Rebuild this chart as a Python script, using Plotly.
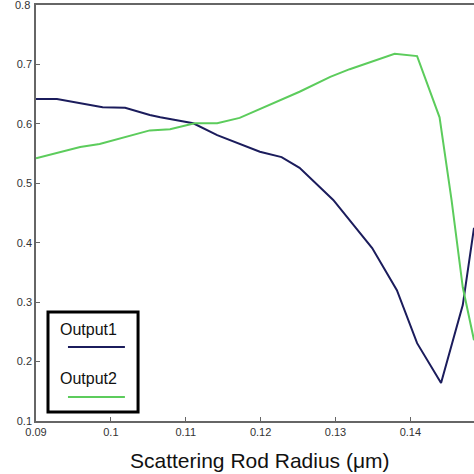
import plotly.graph_objects as go

x_out1 = [0.0900, 0.0928, 0.0989, 0.1019, 0.1052, 0.1066, 0.1110, 0.1142, 0.1199,
          0.1228, 0.1252, 0.1297, 0.1349, 0.1382, 0.1409, 0.1441, 0.1470, 0.1485]
y_out1 = [0.642, 0.642, 0.628, 0.627, 0.615, 0.611, 0.601, 0.581, 0.553,
          0.544, 0.526, 0.472, 0.391, 0.320, 0.231, 0.164, 0.295, 0.425]

x_out2 = [0.0900, 0.0959, 0.0985, 0.1052, 0.1079, 0.1112, 0.1142, 0.1172, 0.1252,
          0.1293, 0.1319, 0.1379, 0.1409, 0.1439, 0.1455, 0.1470, 0.1485]
y_out2 = [0.542, 0.561, 0.566, 0.589, 0.591, 0.601, 0.601, 0.610, 0.654,
          0.679, 0.692, 0.718, 0.714, 0.611, 0.472, 0.325, 0.236]

names = ["Output1", "Output2"]
colors = ["#1b1c5c", "#5ccc5c"]
x_ticks = [0.09, 0.10, 0.11, 0.12, 0.13, 0.14]
x_tick_text = ["0.09", "0.1", "0.11", "0.12", "0.13", "0.14"]
y_ticks = [0.1, 0.2, 0.3, 0.4, 0.5, 0.6, 0.7, 0.8]
y_tick_text = ["0.1", "0.2", "0.3", "0.4", "0.5", "0.6", "0.7", "0.8"]
x_title = "Scattering Rod Radius (μm)"

tick_font = dict(family="Arial, Liberation Sans", size=11, color="#333")

fig = go.Figure()
fig.add_trace(go.Scatter(x=x_out1, y=y_out1, mode="lines", name=names[0],
                         line=dict(color=colors[0], width=2)))
fig.add_trace(go.Scatter(x=x_out2, y=y_out2, mode="lines", name=names[1],
                         line=dict(color=colors[1], width=2)))

axis_common = dict(showline=True, linecolor="#666", linewidth=1.5, ticks="inside",
                   ticklen=4, tickcolor="#666", showgrid=False, zeroline=False,
                   tickfont=tick_font)

fig.update_xaxes(range=[0.09, 0.1485], tickvals=x_ticks, ticktext=x_tick_text,
                 mirror=True, **axis_common)
fig.update_yaxes(range=[0.1, 0.8], tickvals=y_ticks[:-1], ticktext=y_tick_text[:-1],
                 **axis_common)

# top y tick label (would be dropped by plotly at the figure edge)
fig.add_annotation(xref="paper", yref="y", x=0, y=y_ticks[-1], xshift=-4,
                   xanchor="right", yanchor="middle", showarrow=False,
                   text=y_tick_text[-1], font=tick_font)

# x-axis title
fig.add_annotation(xref="paper", yref="paper", x=0.512, y=0, yshift=-39,
                   xanchor="center", yanchor="middle", showarrow=False,
                   text=x_title,
                   font=dict(family="Arial, Liberation Sans", size=21, color="#111"))

# custom legend box (text above line sample)
fig.add_shape(type="rect", xref="paper", yref="paper", x0=0.0274, x1=0.233,
              y0=0.0216, y1=0.262, line=dict(color="black", width=3),
              fillcolor="white", layer="above")
leg_y_text = [0.221, 0.101]
leg_y_line = [0.178, 0.0577]
for i in range(2):
    fig.add_annotation(xref="paper", yref="paper", x=0.050, y=leg_y_text[i],
                       xanchor="left", yanchor="middle", showarrow=False,
                       text=names[i],
                       font=dict(family="Arial, Liberation Sans", size=16, color="#111"))
    fig.add_shape(type="line", xref="paper", yref="paper", x0=0.073, x1=0.203,
                  y0=leg_y_line[i], y1=leg_y_line[i],
                  line=dict(color=colors[i], width=2), layer="above")

fig.update_layout(width=474, height=474, showlegend=False,
                  margin=dict(l=36, r=0, t=5, b=53),
                  paper_bgcolor="white", plot_bgcolor="white")

fig.write_html("out.html")
